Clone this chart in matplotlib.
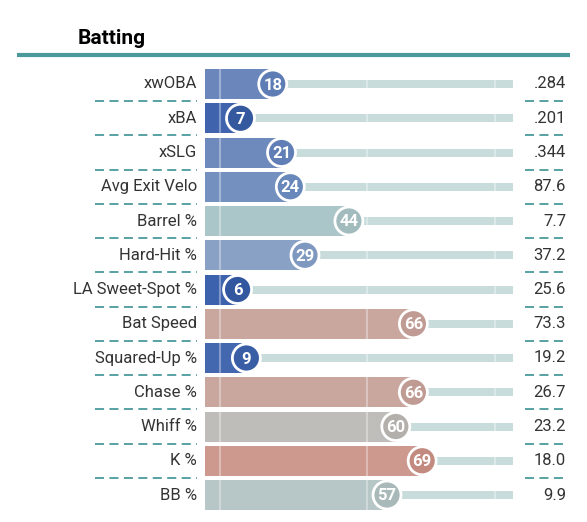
import matplotlib
matplotlib.use('Agg')
import matplotlib.pyplot as plt
from matplotlib.patches import Rectangle, Circle

plt.rcParams['font.family'] = ['Liberation Sans Narrow', 'Roboto', 'DejaVu Sans']

# data
metrics = ['xwOBA', 'xBA', 'xSLG', 'Avg Exit Velo', 'Barrel %', 'Hard-Hit %',
           'LA Sweet-Spot %', 'Bat Speed', 'Squared-Up %', 'Chase %', 'Whiff %', 'K %', 'BB %']
percentiles = [18, 7, 21, 24, 44, 29, 6, 66, 9, 66, 60, 69, 57]
values = ['.284', '.201', '.344', '87.6', '7.7', '37.2', '25.6', '73.3', '19.2', '26.7', '23.2', '18.0', '9.9']
bar_colors = ['#6a86ba', '#3f64ad', '#6e89bb', '#7490bf', '#abc6c9', '#8aa1c6', '#3d62ad',
              '#c9a79f', '#4468af', '#c9a79f', '#bfbdb9', '#cd998e', '#b7c6c6']
dot_colors = ['#5f7db5', '#35599f', '#617fb6', '#6887bb', '#a2bcbe', '#7f98c0', '#33579f',
              '#bf9b93', '#3a5ea6', '#bf9b93', '#b3b0ac', '#c38b80', '#a9b8b8']

# layout (pixel coords)
W, H = 587, 522
x_start, x0, x100 = 205, 220, 513
y_first, dy, bh = 84, 34.25, 30
teal = '#4a9a9c'

fig = plt.figure(figsize=(W / 100, H / 100), dpi=100)
ax = fig.add_axes([0, 0, 1, 1])
ax.set_xlim(0, W)
ax.set_ylim(H, 0)
ax.axis('off')

# header
ax.plot([17, 570], [55, 55], color=teal, lw=3, solid_capstyle='butt')
ax.text(78, 38, 'Batting', fontsize=15, fontweight='bold', va='center', ha='left', color='black')

def px(p):
    return x0 + p / 100 * (x100 - x0)

for i, (m, p, v) in enumerate(zip(metrics, percentiles, values)):
    y = y_first + i * dy
    cx = px(p)
    # track
    ax.add_patch(Rectangle((cx, y - 4), x100 - cx, 8, color='#c8dcdc', lw=0, zorder=1))
    # bar
    ax.add_patch(Rectangle((x_start, y - bh / 2), cx - x_start, bh, color=bar_colors[i], lw=0, zorder=2))
    for q in (0, 50, 94):
        xq = px(q)
        ax.plot([xq, xq], [y - bh / 2, y + bh / 2], color='white', alpha=0.35, lw=1.5, zorder=3)
    # dot
    ax.add_patch(Circle((cx, y), 14, facecolor=dot_colors[i], edgecolor='white', lw=2, zorder=4))
    ax.text(cx, y + 1, str(p), fontsize=12, fontweight='bold', color='white',
            ha='center', va='center', zorder=5)
    ax.text(197, y, m, fontsize=12, ha='right', va='center', color='#333333')
    ax.text(566, y, v, fontsize=12, ha='right', va='center', color='#333333')
    if i < len(metrics) - 1:
        ys = y + dy / 2
        ax.plot([95, 197], [ys, ys], color=teal, lw=1.3, ls=(0, (5, 3)))
        ax.plot([525, 566], [ys, ys], color=teal, lw=1.3, ls=(0, (5, 3)))

fig.savefig('out.png', dpi=100)
